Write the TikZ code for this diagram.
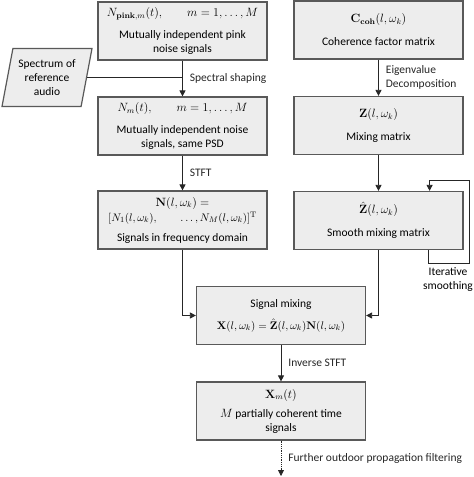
\documentclass[tikz,border=0pt]{standalone}
\usepackage[no-math]{fontspec}
\setmainfont{Carlito}
\usetikzlibrary{arrows.meta, shapes.geometric}

\begin{document}
\begin{tikzpicture}[x=1pt, y=-1pt,
  block/.style={rectangle, draw=black!65, line width=1.2pt, fill=black!7, minimum width=169pt, minimum height=58pt, text width=165pt, inner sep=1pt, align=flush center, font=\fontsize{11.5}{14}\selectfont},
  source/.style={trapezium, trapezium left angle=76, trapezium right angle=104, trapezium stretches=true, draw=black!65, line width=1.2pt, fill=black!7, minimum width=90pt, minimum height=58pt, inner sep=1pt, align=flush center, font=\fontsize{11.5}{14}\selectfont},
  arr/.style={-{Triangle[length=6pt, width=6pt]}, black!85, line width=0.8pt},
  lbl/.style={right, align=left, xshift=5pt, inner sep=2pt, font=\fontsize{11.5}{14}\selectfont}
]

\useasboundingbox (0,0) rectangle (474,477);

\node[block] (pink) at (182.5, 31) {$N_{\mathbf{pink},m}(t),\qquad m=1,\dots,M$\\[8pt] Mutually independent pink\\noise signals};
\node[source] (spec) at (47, 77.5) {Spectrum of\\reference\\audio};
\node[block] (noise) at (182.5, 126) {$N_m(t),\qquad m=1,\dots,M$\\[8pt] Mutually independent noise\\signals, same PSD};
\node[block] (freq) at (182.5, 220) {$\mathbf{N}(l,\omega_k)=$\\[1pt] {\fontsize{11}{14}\selectfont$[N_1(l,\omega_k),\qquad \dots,N_M(l,\omega_k)]^{\mathrm{T}}$}\\[6pt] Signals in frequency domain};

\node[block] (coh) at (378.5, 30) {$\mathbf{C}_{\mathbf{coh}}(l,\omega_k)$\\[9pt] Coherence factor matrix};
\node[block] (mixmat) at (378.5, 125.5) {$\mathbf{Z}(l,\omega_k)$\\[9pt] Mixing matrix};
\node[block] (smooth) at (378.5, 220.5) {$\hat{\mathbf{Z}}(l,\omega_k)$\\[9pt] Smooth mixing matrix};

\node[block] (sigmix) at (281, 315.5) {Signal mixing\\[8pt] {\fontsize{11}{14}\selectfont$\mathbf{X}(l,\omega_k)=\hat{\mathbf{Z}}(l,\omega_k)\mathbf{N}(l,\omega_k)$}};
\node[block] (out) at (281, 411) {$\mathbf{X}_m(t)$\\[5pt] $M$ partially coherent time\\signals};
\coordinate (end) at (281, 476);

\draw[arr] (pink.south) -- node[lbl] {Spectral shaping} (noise.north);
\draw[black!85, line width=0.8pt] (spec.east) -- (spec.east -| pink.south);
\draw[arr] (noise.south) -- node[lbl] {STFT} (freq.north);
\draw[arr] (coh.south) -- node[lbl] {Eigenvalue\\Decomposition} (mixmat.north);
\draw[arr] (mixmat.south) -- (smooth.north);
\draw[arr] ([xshift=-35pt]smooth.south east) -- ++(0,13) -- ++(41,0) -- ++(0,-83) -| ([xshift=-34pt]smooth.north east);
\node[align=center, font=\fontsize{11.5}{14}\selectfont] (iter) at (448, 280) {Iterative\\smoothing};

\draw[arr] (freq.south) |- (sigmix.west);
\draw[arr] (smooth.south) |- (sigmix.east);
\draw[arr] (sigmix.south) -- node[lbl] {Inverse STFT} (out.north);
\draw[arr, densely dotted] (out.south) -- node[lbl] {Further outdoor propagation filtering} (end);

\end{tikzpicture}
\end{document}
